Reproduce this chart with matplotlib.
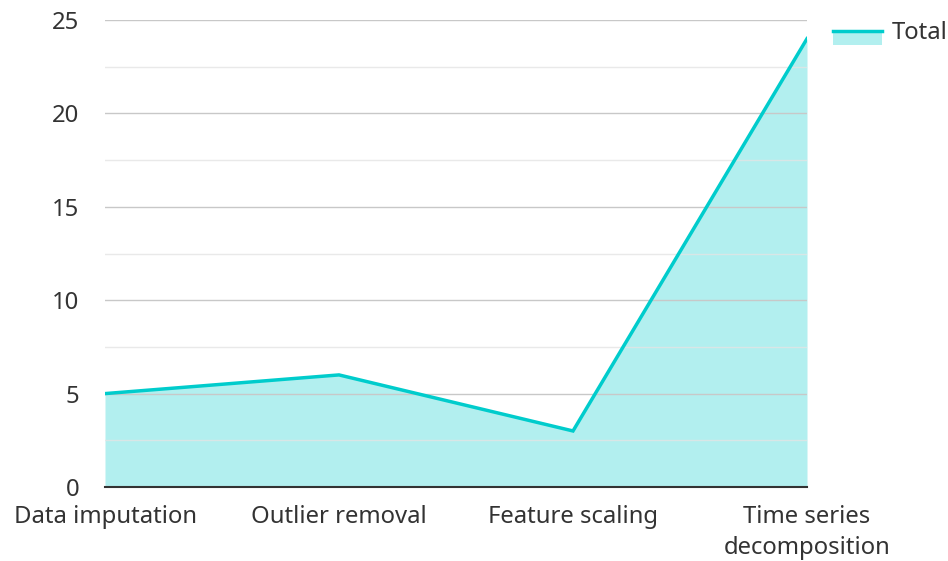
import matplotlib.pyplot as plt
from matplotlib.patches import Rectangle
from matplotlib.lines import Line2D
from matplotlib.legend_handler import HandlerBase

plt.rcParams['font.family'] = ['Noto Sans', 'DejaVu Sans']

steps = ['Data imputation', 'Outlier removal', 'Feature scaling', 'Time series\ndecomposition']
total = [5, 6, 3, 24]

line_col = '#00CCCC'
fill_col = '#B2EFEF'
text_col = '#333333'
fs = 17.2


class AreaHandler(HandlerBase):
    # line on top edge of a filled box, like the reference legend
    def create_artists(self, legend, orig, xd, yd, w, h, fontsize, trans):
        box = Rectangle((xd, yd - 0.35 * h), w, h * 0.85, facecolor=fill_col,
                        edgecolor='none', transform=trans)
        ln = Line2D([xd, xd + w], [yd + h * 0.5, yd + h * 0.5], color=line_col,
                    lw=2.5, transform=trans)
        return [box, ln]


fig = plt.figure(figsize=(9.48, 5.61), dpi=100)
ax = fig.add_axes([105 / 948, 1 - 487 / 561, 702 / 948, 467 / 561])

x = list(range(len(steps)))
ax.fill_between(x, total, 0, color=fill_col, lw=0, zorder=1)
ax.plot(x, total, color=line_col, lw=2.5, zorder=3, solid_joinstyle='miter')

ax.set_xlim(0, len(steps) - 1)
ax.set_ylim(0, 25)
ax.set_yticks([0, 5, 10, 15, 20, 25])
ax.set_yticks([2.5, 7.5, 12.5, 17.5, 22.5], minor=True)
ax.set_xticks(x)
ax.set_xticklabels(steps, linespacing=1.4)

ax.set_axisbelow(False)
ax.grid(axis='y', which='major', color='#c8c8c8', lw=1, zorder=2)
ax.grid(axis='y', which='minor', color='#e4e4e4', lw=1, zorder=2, alpha=0.8)

for s in ['top', 'right', 'left']:
    ax.spines[s].set_visible(False)
ax.spines['bottom'].set_color(text_col)
ax.spines['bottom'].set_linewidth(1.5)
ax.spines['bottom'].set_zorder(4)

ax.tick_params(axis='both', which='both', length=0, labelsize=fs, colors=text_col)
ax.tick_params(axis='y', pad=18.5)
ax.tick_params(axis='x', pad=13)

proxy = Line2D([], [])
fig.legend([proxy], ['Total'], handler_map={Line2D: AreaHandler()},
           loc='upper left', bbox_to_anchor=(833 / 948, 1 - 21 / 561),
           borderpad=0, borderaxespad=0,
           frameon=False, fontsize=fs, handlelength=2.05, handletextpad=0.42,
           labelcolor=text_col)

fig.savefig('out.png', dpi=100)
